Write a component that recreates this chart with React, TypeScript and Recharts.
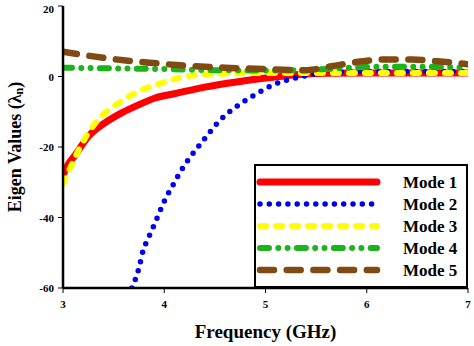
import React from 'react';
import { LineChart, Line, XAxis, YAxis, Legend, Label } from 'recharts';

// frequency (GHz) / eigenvalue pairs
const mode1X = [3.0, 3.05, 3.12, 3.25, 3.41, 3.58, 3.75, 3.91, 4.1, 4.4, 4.75, 5.05, 5.3, 5.6, 6.0, 6.5, 7.0];
const mode1Y = [-28, -25, -22.3, -17, -13.2, -10.3, -8, -6.1, -4.9, -3, -1.4, -0.3, 0.5, 0.9, 1, 1, 1];

const mode2X = [3.68, 3.75, 3.79, 3.84, 3.91, 3.99, 4.09, 4.19, 4.32, 4.45, 4.54, 4.72, 4.9, 5.08, 5.27, 5.47, 5.7, 6.0, 6.5, 7.0];
const mode2Y = [-60, -54.3, -49.5, -46, -41.5, -36, -30.6, -25.6, -20.5, -15.8, -12.7, -8.4, -5.1, -2.3, -0.6, 0.6, 1.2, 1.4, 1.4, 1.4];

const mode3X = [3.0, 3.08, 3.17, 3.25, 3.38, 3.55, 3.74, 3.97, 4.17, 4.4, 4.7, 5.0, 5.5, 6.0, 6.5, 7.0];
const mode3Y = [-30.5, -25.4, -20, -16, -11.3, -7.5, -4.3, -1.9, -0.2, 0.6, 0.9, 1, 1, 1, 1, 1];

const mode4X = [3.0, 3.5, 4.0, 4.5, 5.0, 5.5, 6.0, 6.5, 7.0];
const mode4Y = [2.5, 2.3, 2.1, 1.8, 1.7, 2.0, 2.7, 2.8, 2.5];

const mode5X = [3.0, 3.3, 3.6, 3.9, 4.2, 4.6, 5.0, 5.4, 5.65, 5.9, 6.15, 6.45, 6.7, 7.0];
const mode5Y = [7, 5.7, 4.6, 3.8, 3.1, 2.5, 2.1, 1.8, 2.9, 4.1, 4.8, 4.8, 4.3, 3.5];

const xTicks = [3, 4, 5, 6, 7];
const yTicks = [-60, -40, -20, 0, 20];

const toPoints = (xs: number[], ys: number[]) => xs.map((x, i) => ({ x, y: ys[i] }));

const series = [
  { name: 'Mode 1', data: toPoints(mode1X, mode1Y), color: '#ff0000', width: 7, dash: undefined },
  { name: 'Mode 2', data: toPoints(mode2X, mode2Y), color: '#0000f0', width: 5.5, dash: '0 9.3' },
  { name: 'Mode 3', data: toPoints(mode3X, mode3Y), color: '#ffff00', width: 6, dash: '6 10' },
  { name: 'Mode 4', data: toPoints(mode4X, mode4Y), color: '#1db31d', width: 6, dash: '9 9.3 0 9.3 0 9.3' },
  { name: 'Mode 5', data: toPoints(mode5X, mode5Y), color: '#804a12', width: 6.5, dash: '14 12.7' },
];

const font = "'Liberation Serif', 'DejaVu Serif', serif";
const serif = { fontFamily: font, fontWeight: 700 };

const XTick = ({ x, y, payload }: any) => (
  <text x={x} y={y + 13} textAnchor="middle" style={{ ...serif, fontSize: 11 }} fill="#000">
    {payload.value}
  </text>
);

const YTick = ({ x, y, payload }: any) => (
  <text x={x - 2} y={y} textAnchor="end" dominantBaseline="central" style={{ ...serif, fontSize: 11 }} fill="#000">
    {payload.value}
  </text>
);

const LegendBox = () => (
  <svg width={210} height={120} style={{ display: 'block' }}>
    {series.map((s, i) => {
      const cy = 16 + i * 22;
      return (
        <g key={s.name}>
          <line x1={4} x2={121} y1={cy} y2={cy} stroke={s.color} strokeWidth={s.width}
            strokeDasharray={s.dash} strokeLinecap="round" />
          <text x={147} y={cy} dominantBaseline="central" style={{ ...serif, fontSize: 17 }} fill="#000">
            {s.name}
          </text>
        </g>
      );
    })}
  </svg>
);

const YTitle = ({ viewBox }: any) => {
  const cx = viewBox.x + 15;
  const cy = viewBox.y + viewBox.height / 2;
  return (
    <text x={cx} y={cy} transform={`rotate(-90 ${cx} ${cy})`} textAnchor="middle" dominantBaseline="central"
      style={{ ...serif, fontSize: 18 }} fill="#000">
      Eigen Values (λ<tspan style={{ fontSize: 12 }} dy={4}>n</tspan><tspan dy={-4}>)</tspan>
    </text>
  );
};

const XTitle = ({ viewBox }: any) => (
  <text x={viewBox.x + viewBox.width / 2} y={viewBox.y + 50} textAnchor="middle"
    style={{ ...serif, fontSize: 19 }} fill="#000">
    Frequency (GHz)
  </text>
);

export default function App() {
  return (
    <div style={{ position: 'absolute', left: 0, top: 0, background: '#fff', fontFamily: font }}>
      <LineChart width={474} height={346} margin={{ top: 6, right: 6, left: 0, bottom: 0 }}>
        <XAxis dataKey="x" type="number" domain={[3, 7]} ticks={xTicks} allowDataOverflow
          height={58} tick={<XTick />} tickSize={5}
          axisLine={{ stroke: '#000', strokeWidth: 2.5 }} tickLine={{ stroke: '#000' }}>
          <Label content={<XTitle />} />
        </XAxis>
        <XAxis xAxisId="top" orientation="top" type="number" domain={[3, 7]} height={0}
          tick={false} tickLine={false} axisLine={{ stroke: '#000', strokeWidth: 2 }} />
        <YAxis type="number" domain={[-60, 20]} ticks={yTicks} allowDataOverflow width={63}
          tick={<YTick />} tickSize={5}
          axisLine={{ stroke: '#000', strokeWidth: 2.5 }} tickLine={{ stroke: '#000' }}>
          <Label content={<YTitle />} />
        </YAxis>
        <YAxis yAxisId="right" orientation="right" type="number" domain={[-60, 20]} width={0}
          tick={false} tickLine={false} axisLine={{ stroke: '#000', strokeWidth: 2 }} />
        {series.map((s) => (
          <Line key={s.name} data={s.data} dataKey="y" name={s.name} type="monotone"
            stroke={s.color} strokeWidth={s.width} strokeDasharray={s.dash} strokeLinecap="round"
            dot={false} activeDot={false} isAnimationActive={false} />
        ))}
        <Legend layout="vertical" align="center" verticalAlign="middle" content={<LegendBox />}
          wrapperStyle={{ position: 'absolute', left: 254, top: 164, width: 214, height: 124,
            border: '2px solid #000', background: '#fff', boxSizing: 'border-box' }} />
      </LineChart>
    </div>
  );
}
